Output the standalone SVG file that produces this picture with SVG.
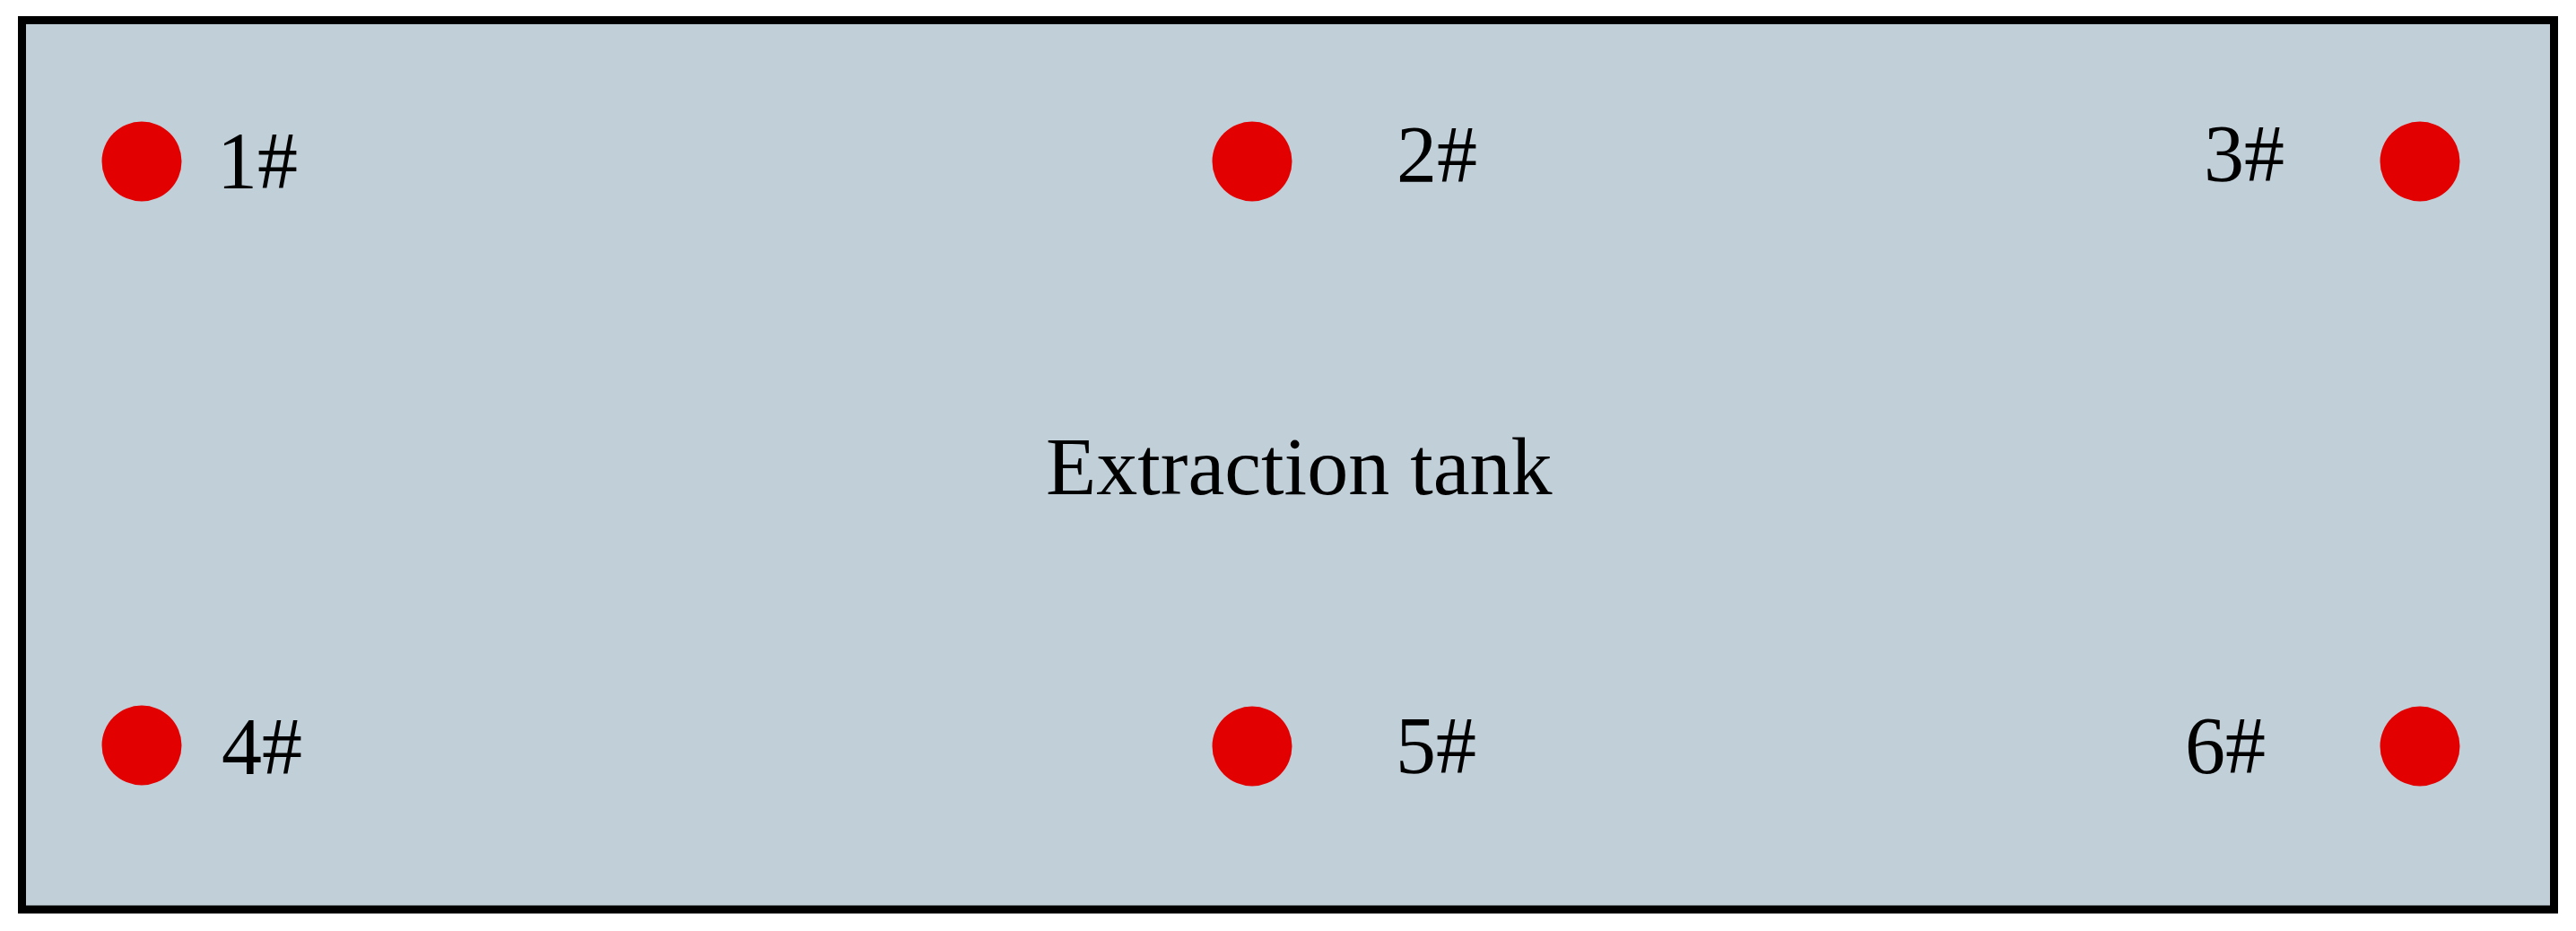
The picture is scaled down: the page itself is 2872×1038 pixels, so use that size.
<svg xmlns="http://www.w3.org/2000/svg" width="2872" height="1038" viewBox="0 0 2872 1038">
  <style>
    .tank { fill: #c1cfd9; stroke: #000000; stroke-width: 9; }
    .pt { fill: #e30000; }
    .lbl { font-family: "Liberation Serif", "Times New Roman", serif; font-size: 90px; fill: #000000; }
    .title { font-family: "Liberation Serif", "Times New Roman", serif; font-size: 92px; fill: #000000; }
  </style>
  <rect x="0" y="0" width="2872" height="1038" fill="#ffffff"/>
  <g id="tank">
    <rect class="tank" x="24.5" y="22.5" width="2823" height="991.5"/>
    <text class="title" x="1166" y="551">Extraction tank</text>
  </g>
  <g id="connectors"></g>
  <g id="p1"><circle class="pt" cx="158" cy="180" r="44.5"/><text class="lbl" x="242" y="210">1#</text></g>
  <g id="p2"><circle class="pt" cx="1396" cy="180" r="44.5"/><text class="lbl" x="1557" y="203">2#</text></g>
  <g id="p3"><circle class="pt" cx="2698" cy="180" r="44.5"/><text class="lbl" x="2457" y="202">3#</text></g>
  <g id="p4"><circle class="pt" cx="158" cy="831" r="44.5"/><text class="lbl" x="247" y="863">4#</text></g>
  <g id="p5"><circle class="pt" cx="1396" cy="832" r="44.5"/><text class="lbl" x="1556" y="862">5#</text></g>
  <g id="p6"><circle class="pt" cx="2698" cy="832" r="44.5"/><text class="lbl" x="2436" y="862">6#</text></g>
</svg>
